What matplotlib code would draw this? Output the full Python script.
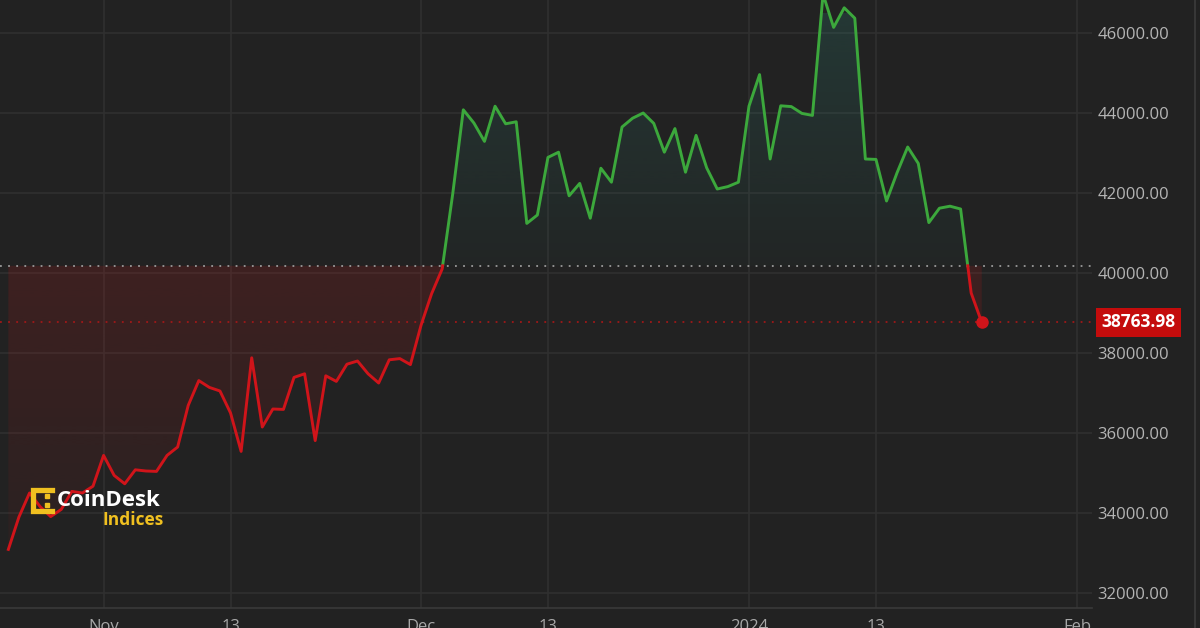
import matplotlib
matplotlib.use('Agg')
import matplotlib.dates as mdates
import matplotlib.pyplot as plt
import numpy as np
import pandas as pd
from matplotlib.colors import to_rgb
from matplotlib.lines import Line2D
from matplotlib.patches import Polygon

plt.rcParams['font.family'] = ['Open Sans', 'DejaVu Sans']

# daily close, 2023-10-23 .. 2024-01-23
START = '2023-10-23'
PRICES = [33090, 33900, 34500, 34160, 33910, 34090, 34540, 34500, 34670,
          # Nov
          35440, 34940, 34730, 35080, 35050, 35040, 35440, 35650, 36690, 37310,
          37140, 37050, 36500, 35540, 37880, 36150, 36600, 36590, 37390, 37480,
          35810, 37430, 37290, 37720, 37800, 37480, 37250, 37830, 37860, 37710,
          # Dec
          38690, 39480, 40100, 41980, 44080, 43750, 43290, 44170, 43730, 43780,
          41240, 41450, 42890, 43020, 41930, 42240, 41370, 42620, 42270, 43650,
          43870, 44000, 43740, 43020, 43610, 42520, 43440, 42630, 42100, 42160,
          42270,
          # Jan
          44170, 44960, 42850, 44180, 44160, 43990, 43940, 46970, 46140, 46630,
          46370, 42850, 42840, 41800, 42510, 43150, 42740, 41260, 41620, 41670,
          41600, 39500, 38763.98]
BASELINE = 40180
LAST_PRICE = 38763.98

TICK_DATES = ['2023-11-01', '2023-11-13', '2023-12-01', '2023-12-13',
              '2024-01-01', '2024-01-13', '2024-02-01']
TICK_LABELS = ['Nov', '13', 'Dec', '13', '2024', '13', 'Feb']
Y_TICKS = [32000, 34000, 36000, 38000, 40000, 42000, 44000, 46000]

BG = '#222222'
GRID = '#303030'
RED = '#d0141a'
GREEN = '#3ca83c'


def split_at_baseline(x, y, base):
    xs, ys = [x[0]], [y[0]]
    for i in range(len(x) - 1):
        if (y[i] - base) * (y[i + 1] - base) < 0:
            t = (base - y[i]) / (y[i + 1] - y[i])
            xs.append(x[i] + t * (x[i + 1] - x[i]))
            ys.append(base)
        xs.append(x[i + 1])
        ys.append(y[i + 1])
    return np.array(xs), np.array(ys)


def gradient_fill(ax, xs, ys, base, color, a_near, a_far, y_far):
    verts = list(zip(xs, ys)) + [(xs[-1], base), (xs[0], base)]
    poly = Polygon(verts, closed=True, fc='none', ec='none', transform=ax.transData)
    ax.add_patch(poly)
    n = 256
    rgba = np.zeros((n, 1, 4))
    rgba[..., :3] = to_rgb(color)
    lo, hi = min(base, y_far), max(base, y_far)
    alpha = np.linspace(a_far, a_near, n) if y_far < base else np.linspace(a_near, a_far, n)
    rgba[:, 0, 3] = alpha
    im = ax.imshow(rgba, extent=[xs.min(), xs.max(), lo, hi], origin='lower',
                   aspect='auto', zorder=1, interpolation='bilinear')
    im.set_clip_path(poly)


dates = pd.date_range(START, periods=len(PRICES), freq='D')
x = mdates.date2num(dates)
y = np.array(PRICES, dtype=float)
xs, ys = split_at_baseline(x, y, BASELINE)

fig = plt.figure(figsize=(12, 6.28), dpi=100, facecolor=BG)
ax = fig.add_axes([0.0, 20 / 628, 1092 / 1200, 608 / 628])
ax.set_facecolor(BG)

# fills
gradient_fill(ax, xs, np.minimum(ys, BASELINE), BASELINE, '#c81818', 0.17, 0.04, 32500)
gradient_fill(ax, xs, np.maximum(ys, BASELINE), BASELINE, '#2f9c8c', 0.03, 0.18, 46500)

# line, coloured by side of baseline
ax.plot(xs, np.where(ys >= BASELINE, ys, np.nan), color=GREEN, lw=2.1, zorder=4,
        solid_joinstyle='round')
ax.plot(xs, np.where(ys <= BASELINE, ys, np.nan), color=RED, lw=2.1, zorder=4,
        solid_joinstyle='round')
ax.plot(x[-1], y[-1], 'o', color=RED, ms=8, zorder=5)

ax.axhline(BASELINE, color='#9a9a9a', lw=1.3, ls=(0, (1, 3.5)), zorder=3)
ax.axhline(LAST_PRICE, color='#a01818', lw=1.3, ls=(0, (1, 3.5)), zorder=3)

# axes
x0 = mdates.date2num(pd.Timestamp('2023-11-01'))
ax.set_xlim(x0 - 9.79, x0 + 93.42)
ax.set_ylim(31625, 46825)
ax.set_xticks(mdates.date2num(pd.to_datetime(TICK_DATES)))
ax.set_xticklabels(TICK_LABELS)
ax.set_yticks(Y_TICKS)
ax.set_yticklabels(['{:.2f}'.format(v) for v in Y_TICKS])
ax.yaxis.tick_right()
ax.tick_params(axis='y', length=0, pad=4, labelsize=12, labelcolor='#b4b4b4')
ax.tick_params(axis='x', length=0, pad=8, labelsize=12, labelcolor='#a8a8a8')
ax.grid(True, color=GRID, lw=1.2)
ax.set_axisbelow(True)
for side in ['top', 'left', 'right']:
    ax.spines[side].set_visible(False)
ax.spines['bottom'].set_color('#3a3a3a')
ax.spines['bottom'].set_linewidth(1.2)

# last price label
ax.text(1.0085, LAST_PRICE, '{:.2f}'.format(LAST_PRICE), transform=ax.get_yaxis_transform(),
        ha='left', va='center', fontsize=12.5, fontweight='bold', color='white',
        bbox=dict(boxstyle='square,pad=0.3', fc='#c40c0c', ec='none'), zorder=6)

# right border of price scale
fig.add_artist(Line2D([1195 / 1200, 1195 / 1200], [0, 1], color='#3c3c3c', lw=1.2))


# CoinDesk Indices logo
def px(xp, yp):
    return xp / 1200, 1 - yp / 628


yel = '#f0c020'
bx = [px(52, 490), px(33, 490), px(33, 511), px(52, 511)]
fig.add_artist(Line2D([p[0] for p in bx], [p[1] for p in bx], color=yel, lw=3.8,
                      solid_joinstyle='miter'))
for dy in (496, 505):
    fig.add_artist(Line2D([px(47, dy)[0]], [px(47, dy)[1]], marker='s', ms=3,
                          color=yel, lw=0))
fig.text(*px(57, 500), 'CoinDesk', color='white', fontsize=16, fontweight='bold',
         va='center', ha='left', family=['Open Sans', 'DejaVu Sans'])
fig.text(*px(102, 520), 'Indices', color=yel, fontsize=12.5, fontweight='bold',
         va='center', ha='left', family=['Open Sans', 'DejaVu Sans'])

plt.savefig('out.png', dpi=100, facecolor=BG)
